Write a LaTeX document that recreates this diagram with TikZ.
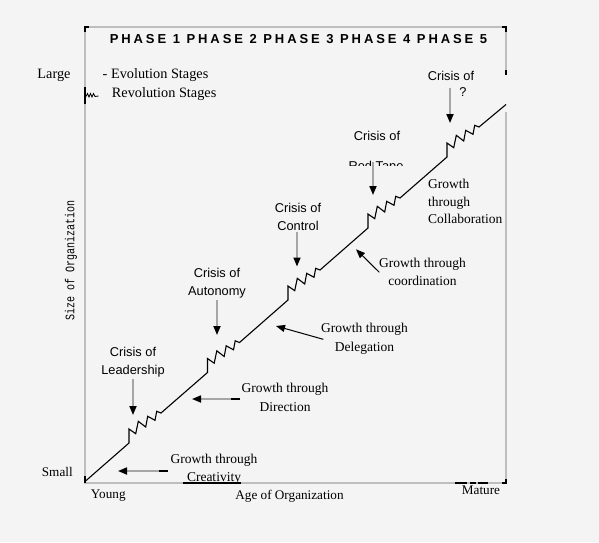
\documentclass[tikz,border=0pt]{standalone}
\usepackage{fontspec}
\setmainfont{Liberation Serif}
\newfontfamily\sansf{Liberation Sans}
\newfontfamily\phasef[LetterSpace=22.5]{Liberation Sans Bold}
\newfontfamily\monof{Liberation Mono}
\usetikzlibrary{arrows.meta,calc}
\definecolor{bg}{HTML}{F4F4F4}
\definecolor{framegray}{HTML}{BEBEBE}
\definecolor{shaftgray}{HTML}{A6A6A6}
\newcommand{\revzig}{-- ++(0,-14) -- ++(6.7,4.7) -- ++(2.6,-12.4) -- ++(7.4,5.7) -- ++(2,-10.7) -- ++(7.3,4) -- ++(1.7,-9) -- ++(4.3,1.7)}
\begin{document}
\begin{tikzpicture}[x=1pt,y=-1pt,
  crisis/.style={font={\sansf\fontsize{12.8pt}{18pt}\selectfont}, align=center, inner sep=0pt},
  growth/.style={font={\fontsize{13.5pt}{18.5pt}\selectfont}, align=center, inner sep=0pt},
  axislab/.style={font={\fontsize{13.2pt}{15pt}\selectfont}, inner sep=0pt},
  legendlab/.style={font={\fontsize{14.3pt}{16pt}\selectfont}, inner sep=0pt, anchor=west},
  stair/.style={black, line width=1.1pt, line join=miter},
  framebox/.style={framegray, line width=1.6pt},
  tickmark/.style={black, line width=1.1pt},
  crisisarrow/.style={shaftgray, line width=1.7pt, -{Triangle[color=black,width=7pt,length=9pt]}},
  blackarrow/.style={black, line width=1pt, -{Triangle[width=7pt,length=9pt]}},
]
\useasboundingbox (0,0) rectangle (599,542);
\fill[bg] (0,0) rectangle (599,542);

% frame
\draw[framebox] (506,73) -- (506,27) -- (85,27) -- (85,483) -- (506,483) -- (506,112);
\draw[tickmark] (85,32) -- (85,27) -- (89,27);
\draw[tickmark] (502,27) -- (506,27) -- (506,32);
\draw[tickmark] (506,70) -- (506,75);
\draw[tickmark] (85,476) -- (85,483);
\draw[tickmark] (502,483) -- (506,483) -- (506,479);
\draw[tickmark] (183.4,483) -- (240.7,483);
\draw[tickmark] (455,483) -- (467,483);
\draw[tickmark] (470,483) -- (476,483);
\draw[tickmark] (478,483) -- (488,483);

% header
\node[font={\phasef\fontsize{13pt}{15pt}\selectfont}, inner sep=0pt] (phase) at (298.5,39.5) {PHASE 1 PHASE 2 PHASE 3 PHASE 4 PHASE 5};

% legend
\node[axislab, font={\fontsize{14.3pt}{16pt}\selectfont}] (large) at (54,75) {Large};
\node[legendlab] (evo) at (102.5,75.5) {- Evolution Stages};
\node[legendlab] (revo) at (111.7,94.5) {Revolution Stages};
\draw[tickmark] (85,87) -- (85,104);
\draw[black, line width=0.8pt] (86,96.5) -- (87.5,93.5) -- (89,97) -- (90.5,93.5) -- (92,97) -- (93.5,93.5) -- (95,96.5) -- (98.5,96);

% axes labels
\node[font={\monof\fontsize{13pt}{15pt}\selectfont}, rotate=90, inner sep=0pt] (yaxis) at (71,260.5) {\scalebox{0.77}[1]{Size of Organization}};
\node[axislab] (small) at (57.3,471.7) {Small};
\node[axislab] (young) at (108.3,496) {Young};
\node[axislab] (xaxis) at (289.5,496) {Age of Organization};
\node[axislab] (mature) at (481,490.7) {Mature};

% staircase
\coordinate (s) at (85,481.5);
\coordinate (v1) at (129,443);
\coordinate (v2) at (207.5,372.5);
\coordinate (v3) at (288,300);
\coordinate (v4) at (368,228);
\coordinate (v5) at (447,157);
\coordinate (xend) at (506,104.5);
\draw[stair] (s) -- (v1) \revzig -- (v2) \revzig -- (v3) \revzig -- (v4) \revzig -- (v5) \revzig -- (xend);

% crisis labels
\node[crisis] (c1) at (133,362) {Crisis of\\Leadership};
\node[crisis] (c2) at (217,283.5) {Crisis of\\Autonomy};
\node[crisis] (c3) at (298,217) {Crisis of\\Control};
\node[crisis] (c4) at (377,135.5) {Crisis of};
\begin{scope}
  \clip (330,150) rectangle (420,165.5);
  \node[crisis, anchor=base] (c4b) at (376,170) {Red Tape};
\end{scope}
\node[crisis] (c5) at (451,75.5) {Crisis of};
\node[crisis] (q5) at (463,92) {?};

% crisis arrows
\coordinate (a1s) at (133,379);   \coordinate (a1t) at (133,415);
\coordinate (a2s) at (217,300);   \coordinate (a2t) at (217,335);
\coordinate (a3s) at (297,232);   \coordinate (a3t) at (297,266.5);
\coordinate (a4s) at (373,162);   \coordinate (a4t) at (373,195);
\coordinate (a5s) at (450,87.5);  \coordinate (a5t) at (450,123);
\draw[crisisarrow] (a1s) -- (a1t);
\draw[crisisarrow] (a2s) -- (a2t);
\draw[crisisarrow] (a3s) -- (a3t);
\draw[crisisarrow] (a4s) -- (a4t);
\draw[crisisarrow] (a5s) -- (a5t);

% growth labels
\node[growth] (g1) at (214,469.5) {Growth through\\Creativity};
\node[growth] (g2) at (285,397.5) {Growth through\\Direction};
\node[growth] (g3) at (364.5,339) {Growth through\\Delegation};
\node[growth] (g4) at (422.5,272) {Growth through\\coordination};
\node[growth, align=left, anchor=west, font={\fontsize{13.5pt}{17.5pt}\selectfont}] (g5) at (428,201.5) {Growth\\through\\Collaboration};

% growth arrows
\coordinate (b1s) at (168,471);   \coordinate (b1t) at (118,471);  \coordinate (b1k) at (159,471);
\coordinate (b2s) at (240,399);   \coordinate (b2t) at (192,399);  \coordinate (b2k) at (231,399);
\coordinate (b3s) at (323.3,339.3); \coordinate (b3t) at (276,326);
\coordinate (b4s) at (379.3,272.3); \coordinate (b4t) at (356,249.3);
\draw[crisisarrow] (b1s) -- (b1t);
\draw[tickmark] (b1k) -- (b1s);
\draw[crisisarrow] (b2s) -- (b2t);
\draw[tickmark] (b2k) -- (b2s);
\draw[blackarrow] (b3s) -- (b3t);
\draw[blackarrow] (b4s) -- (b4t);
\end{tikzpicture}
\end{document}
